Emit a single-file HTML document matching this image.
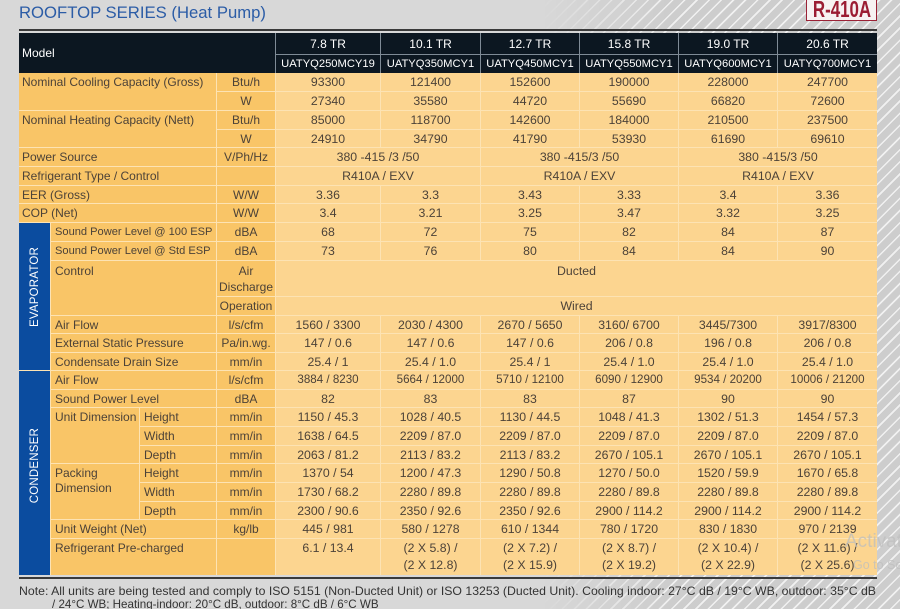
<!DOCTYPE html>
<html><head><meta charset="utf-8">
<style>
*{box-sizing:border-box;}
html,body{margin:0;padding:0;}
body{width:900px;height:609px;overflow:hidden;background:#d8d8d8;position:relative;font-family:"Liberation Sans",Arial,sans-serif;}
.stripes{position:absolute;left:540px;top:0;width:360px;height:609px;
 background:repeating-linear-gradient(135deg,rgba(0,0,0,0.05) 0px,rgba(0,0,0,0.05) 7px,rgba(242,242,242,0.95) 7px,rgba(242,242,242,0.95) 8.6px);
 -webkit-mask-image:linear-gradient(to right,rgba(0,0,0,0) 0px,#000 140px);mask-image:linear-gradient(to right,rgba(0,0,0,0) 0px,#000 140px);}
.title{position:absolute;left:19px;top:5px;font-size:16.7px;line-height:1;color:#2b5ca6;white-space:nowrap;}
.topline{position:absolute;left:19px;top:29px;width:858px;height:2px;background:#3a3a3a;}
.badge{position:absolute;left:806px;top:-2px;width:71px;height:23px;background:#f7f2f2;border:1.5px solid #9b2236;overflow:hidden;}
.badge span{position:absolute;left:50%;top:50%;transform:translate(-50%,-52%) scaleX(0.72);font-weight:bold;font-size:23.5px;line-height:1;color:#9b1d33;white-space:nowrap;}
.head{position:absolute;left:19px;top:33px;width:858px;display:grid;
 grid-template-columns:31px 88px 76px 58px 104px 99px 98px 98px 98px 99px;
 grid-template-rows:21px 18px;gap:1px;background:#7f8b96;}
.head div{background:#0c1721;color:#fff;font-size:11.2px;display:flex;align-items:center;justify-content:center;white-space:nowrap;overflow:hidden;}
.head .tr{font-size:12px;}
.head .model{justify-content:flex-start;padding-left:3px;font-size:12px;}
.grid{position:absolute;left:19px;top:73px;width:858px;display:grid;
 grid-template-columns:31px 88px 76px 58px 104px 99px 98px 98px 98px 99px;
 grid-template-rows:18px 18px 18px 17px 18px 18px 17px 18px 18px 18px 35px 18px 17px 18px 17px 18px 17px 18px 18px 17px 18px 18px 17px 18px 36px;
 gap:1px;background:#fde3b3;}
.grid div{display:flex;align-items:center;justify-content:center;white-space:nowrap;color:#4c4238;font-size:12px;line-height:18px;overflow:hidden;}
.grid .l{background:#f9c567;justify-content:flex-start;padding-left:3px;}
.grid .l2{background:#f9c567;justify-content:flex-start;padding-left:4px;}
.grid .sm{font-size:11.1px;}
.grid .u{background:#f9c567;}
.grid .d{background:#fcd590;font-size:12.3px;}
.grid .top{align-items:flex-start;}
.grid .b{background:#0b4c9f;color:#fff;font-size:11.5px;}
.grid .b span{writing-mode:vertical-rl;transform:rotate(180deg);letter-spacing:0.2px;}
.grid .two{flex-direction:column;line-height:16px;}
.grid .rf{flex-direction:column;align-items:center;justify-content:flex-start;line-height:17px;padding-top:1px;}
.s2{grid-column:span 2;}
.s3{grid-column:span 3;}
.s6{grid-column:span 6;}
.r2{grid-row:span 2;}
.r3{grid-row:span 3;}
.botline{position:absolute;left:19px;top:577px;width:858px;height:2px;background:#3a3a3a;}
.note{position:absolute;left:0;top:580px;width:900px;height:29px;}
.wm{position:absolute;left:845px;top:528px;width:55px;height:50px;overflow:hidden;}
.wm1{position:absolute;left:0;top:4px;font-size:19px;line-height:1;color:rgba(190,190,190,0.75);white-space:nowrap;}
.wm2{position:absolute;left:8px;top:31px;font-size:12.5px;line-height:1;color:rgba(190,190,190,0.75);white-space:nowrap;}
</style></head>
<body>
<div class="stripes"></div>
<div class="title">ROOFTOP SERIES (Heat Pump)</div>
<div class="badge"><span>R-410A</span></div>
<div class="topline"></div>

<div class="head">
 <div class="model" style="grid-area:1/1/3/5">Model</div>
 <div class="tr" style="grid-area:1/5">7.8 TR</div>
 <div class="tr" style="grid-area:1/6">10.1 TR</div>
 <div class="tr" style="grid-area:1/7">12.7 TR</div>
 <div class="tr" style="grid-area:1/8">15.8 TR</div>
 <div class="tr" style="grid-area:1/9">19.0 TR</div>
 <div class="tr" style="grid-area:1/10">20.6 TR</div>
 <div style="grid-area:2/5">UATYQ250MCY19</div>
 <div style="grid-area:2/6">UATYQ350MCY1</div>
 <div style="grid-area:2/7">UATYQ450MCY1</div>
 <div style="grid-area:2/8">UATYQ550MCY1</div>
 <div style="grid-area:2/9">UATYQ600MCY1</div>
 <div style="grid-area:2/10">UATYQ700MCY1</div>
</div>

<div class="grid">
 <div class="b" style="grid-area:9/1/16/2;padding-bottom:20px;"><span>EVAPORATOR</span></div>
 <div class="b" style="grid-area:16/1/26/2;padding-bottom:14px;"><span>CONDENSER</span></div>

 <div class="l top r2 s3">Nominal Cooling Capacity (Gross)</div>
 <div class="u">Btu/h</div>
 <div class="d">93300</div><div class="d">121400</div><div class="d">152600</div><div class="d">190000</div><div class="d">228000</div><div class="d">247700</div>
 <div class="u">W</div>
 <div class="d">27340</div><div class="d">35580</div><div class="d">44720</div><div class="d">55690</div><div class="d">66820</div><div class="d">72600</div>
 <div class="l top r2 s3">Nominal Heating Capacity (Nett)</div>
 <div class="u">Btu/h</div>
 <div class="d">85000</div><div class="d">118700</div><div class="d">142600</div><div class="d">184000</div><div class="d">210500</div><div class="d">237500</div>
 <div class="u">W</div>
 <div class="d">24910</div><div class="d">34790</div><div class="d">41790</div><div class="d">53930</div><div class="d">61690</div><div class="d">69610</div>
 <div class="l s3">Power Source</div>
 <div class="u">V/Ph/Hz</div>
 <div class="d s2">380 -415 /3 /50</div><div class="d s2">380 -415/3 /50</div><div class="d s2">380 -415/3 /50</div>
 <div class="l s3">Refrigerant Type / Control</div>
 <div class="u"></div>
 <div class="d s2">R410A / EXV</div><div class="d s2">R410A / EXV</div><div class="d s2">R410A / EXV</div>
 <div class="l s3">EER (Gross)</div>
 <div class="u">W/W</div>
 <div class="d">3.36</div><div class="d">3.3</div><div class="d">3.43</div><div class="d">3.33</div><div class="d">3.4</div><div class="d">3.36</div>
 <div class="l s3">COP (Net)</div>
 <div class="u">W/W</div>
 <div class="d">3.4</div><div class="d">3.21</div><div class="d">3.25</div><div class="d">3.47</div><div class="d">3.32</div><div class="d">3.25</div>
 <div class="l2 s2 sm">Sound Power Level @ 100 ESP</div>
 <div class="u">dBA</div>
 <div class="d">68</div><div class="d">72</div><div class="d">75</div><div class="d">82</div><div class="d">84</div><div class="d">87</div>
 <div class="l2 s2 sm">Sound Power Level @ Std ESP</div>
 <div class="u">dBA</div>
 <div class="d">73</div><div class="d">76</div><div class="d">80</div><div class="d">84</div><div class="d">84</div><div class="d">90</div>
 <div class="l2 top s2 r2" style="padding-top:1px;">Control</div>
 <div class="u two"><span>Air</span><span>Discharge</span></div>
 <div class="d s6 top" style="padding-top:1px;">Ducted</div>
 <div class="u">Operation</div>
 <div class="d s6">Wired</div>
 <div class="l2 s2">Air Flow</div>
 <div class="u">l/s/cfm</div>
 <div class="d">1560 / 3300</div><div class="d">2030 / 4300</div><div class="d">2670 / 5650</div><div class="d">3160/ 6700</div><div class="d">3445/7300</div><div class="d">3917/8300</div>
 <div class="l2 s2">External Static Pressure</div>
 <div class="u">Pa/in.wg.</div>
 <div class="d">147 / 0.6</div><div class="d">147 / 0.6</div><div class="d">147 / 0.6</div><div class="d">206 / 0.8</div><div class="d">196 / 0.8</div><div class="d">206 / 0.8</div>
 <div class="l2 s2">Condensate Drain Size</div>
 <div class="u">mm/in</div>
 <div class="d">25.4 / 1</div><div class="d">25.4 / 1.0</div><div class="d">25.4 / 1</div><div class="d">25.4 / 1.0</div><div class="d">25.4 / 1.0</div><div class="d">25.4 / 1.0</div>
 <div class="l2 s2">Air Flow</div>
 <div class="u">l/s/cfm</div>
 <div class="d" style="font-size:11.6px">3884 / 8230</div><div class="d" style="font-size:11.6px">5664 / 12000</div><div class="d" style="font-size:11.6px">5710 / 12100</div><div class="d" style="font-size:11.6px">6090 / 12900</div><div class="d" style="font-size:11.6px">9534 / 20200</div><div class="d" style="font-size:11.6px">10006 / 21200</div>
 <div class="l2 s2">Sound Power Level</div>
 <div class="u">dBA</div>
 <div class="d">82</div><div class="d">83</div><div class="d">83</div><div class="d">87</div><div class="d">90</div><div class="d">90</div>
 <div class="l2 top r3">Unit Dimension</div>
 <div class="l2">Height</div>
 <div class="u">mm/in</div>
 <div class="d">1150 / 45.3</div><div class="d">1028 / 40.5</div><div class="d">1130 / 44.5</div><div class="d">1048 / 41.3</div><div class="d">1302 / 51.3</div><div class="d">1454 / 57.3</div>
 <div class="l2">Width</div>
 <div class="u">mm/in</div>
 <div class="d">1638 / 64.5</div><div class="d">2209 / 87.0</div><div class="d">2209 / 87.0</div><div class="d">2209 / 87.0</div><div class="d">2209 / 87.0</div><div class="d">2209 / 87.0</div>
 <div class="l2">Depth</div>
 <div class="u">mm/in</div>
 <div class="d">2063 / 81.2</div><div class="d">2113 / 83.2</div><div class="d">2113 / 83.2</div><div class="d">2670 / 105.1</div><div class="d">2670 / 105.1</div><div class="d">2670 / 105.1</div>
 <div class="l2 top r3 two" style="align-items:flex-start;justify-content:flex-start;line-height:15px;padding-top:2px;"><span>Packing</span><span>Dimension</span></div>
 <div class="l2">Height</div>
 <div class="u">mm/in</div>
 <div class="d">1370 / 54</div><div class="d">1200 / 47.3</div><div class="d">1290 / 50.8</div><div class="d">1270 / 50.0</div><div class="d">1520 / 59.9</div><div class="d">1670 / 65.8</div>
 <div class="l2">Width</div>
 <div class="u">mm/in</div>
 <div class="d">1730 / 68.2</div><div class="d">2280 / 89.8</div><div class="d">2280 / 89.8</div><div class="d">2280 / 89.8</div><div class="d">2280 / 89.8</div><div class="d">2280 / 89.8</div>
 <div class="l2">Depth</div>
 <div class="u">mm/in</div>
 <div class="d">2300 / 90.6</div><div class="d">2350 / 92.6</div><div class="d">2350 / 92.6</div><div class="d">2900 / 114.2</div><div class="d">2900 / 114.2</div><div class="d">2900 / 114.2</div>
 <div class="l2 s2">Unit Weight (Net)</div>
 <div class="u">kg/lb</div>
 <div class="d">445 / 981</div><div class="d">580 / 1278</div><div class="d">610 / 1344</div><div class="d">780 / 1720</div><div class="d">830 / 1830</div><div class="d">970 / 2139</div>
 <div class="l2 s2 top">Refrigerant Pre-charged</div>
 <div class="u"></div>
 <div class="d rf"><span>6.1 / 13.4</span></div>
 <div class="d rf"><span>(2 X 5.8) /</span><span>(2 X 12.8)</span></div>
 <div class="d rf"><span>(2 X 7.2) /</span><span>(2 X 15.9)</span></div>
 <div class="d rf"><span>(2 X 8.7) /</span><span>(2 X 19.2)</span></div>
 <div class="d rf"><span>(2 X 10.4) /</span><span>(2 X 22.9)</span></div>
 <div class="d rf"><span>(2 X 11.6) /</span><span>(2 X 25.6)</span></div>
</div>

<div class="botline"></div>
<svg class="note" width="900" height="29" viewBox="0 0 900 29" xmlns="http://www.w3.org/2000/svg">
 <text x="19" y="15" font-family="Liberation Sans, Arial, sans-serif" font-size="11.6" fill="#333" textLength="857" lengthAdjust="spacingAndGlyphs">Note: All units are being tested and comply to ISO 5151 (Non-Ducted Unit) or ISO 13253 (Ducted Unit). Cooling indoor: 27°C dB / 19°C WB, outdoor: 35°C dB</text>
 <text x="52" y="28" font-family="Liberation Sans, Arial, sans-serif" font-size="11.6" fill="#333">/ 24°C WB; Heating-indoor: 20°C dB, outdoor: 8°C dB / 6°C WB</text>
</svg>

<div class="wm"><div class="wm1">Activate Windows</div><div class="wm2">Go to Settings</div></div>
</body></html>
